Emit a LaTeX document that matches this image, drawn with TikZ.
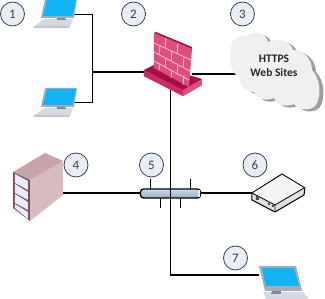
\documentclass[tikz,border=0pt]{standalone}
\usepackage{fontspec}
\setmainfont{Carlito}
\definecolor{lapblue}{HTML}{10B4F4}
\definecolor{lapgrey}{HTML}{A4ACB8}
\definecolor{lapbase}{HTML}{D5D9E0}
\definecolor{badge}{HTML}{E9EDF5}
\definecolor{badgeline}{HTML}{3C4250}
\definecolor{brick}{HTML}{DE4F80}
\definecolor{brickdark}{HTML}{A80F46}
\definecolor{brickmid}{HTML}{CC2A64}
\definecolor{busblue}{HTML}{A9C1DF}
\definecolor{srvside}{HTML}{D6BBC0}
\definecolor{srvtop}{HTML}{C9A3AB}
\definecolor{srvfront}{HTML}{7E4F5C}
\tikzset{
  x=1pt,y=-1pt,
  badgenode/.style={circle,draw=badgeline,fill=badge,line width=0.8pt,minimum size=24pt,inner sep=0pt,font=\fontsize{13}{13}\selectfont,text=black!75},
  link/.style={draw=black,line width=1.2pt},
  trunk/.style={draw=black,line width=1.6pt},
  tick/.style={draw=black,line width=0.8pt},
  mortar/.style={draw=white!75!brick,line width=0.7pt},
  laptop/.pic={
    \fill[lapbase] (-1,20) -- (28,20) -- (25,28) -- (-11,28) -- cycle;
    \fill[lapgrey!70] (-11,27) -- (25,27) -- (24,29) -- (-11,29) -- cycle;
    \fill[lapgrey] (0,0) -- (32,0) -- (29,19) -- (-4,19) -- cycle;
    \fill[lapblue] (2,1) -- (31,1) -- (27.5,17) -- (-2,17) -- cycle;
    \fill[lapgrey!80!black] (12,19) -- (20,19) -- (21,21) -- (12,21) -- cycle;
  }
}
\begin{document}
\begin{tikzpicture}
\useasboundingbox (0,0) rectangle (325,299);
\fill[white] (0,0) rectangle (325,299);

% endpoints and junctions of the wiring
\coordinate (lapA) at (74,14);
\coordinate (lapB) at (74,102);
\coordinate (cornerA) at (92,14);
\coordinate (cornerB) at (92,102);
\coordinate (joint) at (92,72);
\coordinate (fwLeft) at (146,72);
\coordinate (fwRight) at (192,74);
\coordinate (fwBottom) at (170.500,90);
\coordinate (cloudEdge) at (238,74);
\coordinate (srvPort) at (63,193);
\coordinate (busLeft) at (140,193);
\coordinate (busRight) at (201,193);
\coordinate (devPort) at (252,193);
\coordinate (elbow) at (170.500,275);
\coordinate (lapC) at (259,275);

% wiring, kept under the equipment
\draw[tick] (lapA) -- (cornerA) -- (cornerB) -- (lapB);
\draw[trunk] (joint) -- (fwLeft);
\draw[trunk] (fwRight) -- (cloudEdge);
\draw[link] (fwBottom) -- (elbow) -- (lapC);
\draw[link] (srvPort) -- (busLeft);
\draw[link] (busRight) -- (devPort);

% laptops
\pic at (45,-1) {laptop};
\pic at (45,88) {laptop};
\fill[lapbase] (263,292) -- (303,292) -- (309,299) -- (266,299) -- cycle;
\fill[lapgrey] (259,266) -- (296,266) -- (302,291) -- (265,291) -- cycle;
\fill[lapblue] (262,268) -- (294,268) -- (299,286) -- (266,286) -- cycle;
\fill[lapgrey!80!black] (272,291) -- (281,291) -- (281,294) -- (271,294) -- cycle;

% firewall
\fill[brickdark] (144,70) -- (154,65) -- (202,79) -- (202,85) -- (183,96) -- (144,76) -- cycle;
\fill[brickmid] (144,70) -- (183,90) -- (183,96) -- (144,76) -- cycle;
\fill[brick] (183,90) -- (202,79) -- (202,85) -- (183,96) -- cycle;
\fill[brick] (154,33) -- (192,49) -- (189,87) -- (154,68) -- cycle;
\fill[brickdark] (154,33) -- (156,32) -- (192,47) -- (192,49) -- cycle;
\draw[mortar] (154,43) -- (191,60);
\draw[mortar] (154,52) -- (190,71);
\draw[mortar] (154,61) -- (189,80);
\draw[mortar] (166,38) -- (165,48) (178,43) -- (177,54);
\draw[mortar] (160,46) -- (159,55) (172,51) -- (171,61) (184,57) -- (183,67);
\draw[mortar] (166,58) -- (165,67) (178,65) -- (177,75);
\draw[mortar] (160,64) -- (159,70) (172,70) -- (171,78) (184,75) -- (183,85);

% cloud with its offset shadow
\def\cloudoutline{(231,50) .. controls (230,40) and (238,34) .. (247,36)
  .. controls (254,30) and (266,33) .. (268,42)
  .. controls (276,37) and (290,40) .. (293,50)
  .. controls (304,50) and (312,60) .. (312,70)
  .. controls (320,78) and (322,95) .. (316,105)
  .. controls (310,112) and (298,110) .. (294,104)
  .. controls (284,108) and (276,104) .. (274,98)
  .. controls (264,102) and (256,98) .. (254,92)
  .. controls (246,92) and (240,86) .. (240,78)
  .. controls (232,74) and (228,62) .. (231,50) -- cycle}
\fill[black!38,shift={(4,2)}] \cloudoutline;
\fill[black!6] \cloudoutline;
\node[font=\fontsize{11.5}{14}\selectfont\bfseries,align=center,text=black!85] (cloud) at (274,66) {HTTPS\\Web Sites};

% server
\fill[srvside] (30,180) -- (63,161) -- (63,195) -- (30,221) -- cycle;
\fill[srvtop] (13,172) -- (45,153) -- (63,161) -- (30,180) -- cycle;
\fill[srvfront] (13,172) -- (30,180) -- (30,221) -- (13,208) -- cycle;
\foreach \ya/\yb/\yc/\yd in {174/181/190/183,184/192/200/193,194/202/210/203,204/212/219/208}
  \fill[white!92!blue] (15,\ya) -- (28,\yb) -- (28,\yc) -- (15,\yd) -- cycle;

% bus with its stubs
\draw[tick] (150,179) -- (150,189);
\draw[tick] (190,179) -- (190,189);
\draw[tick] (160,198) -- (160,208);
\draw[tick] (180,198) -- (180,208);
\draw[draw=black,line width=1.3pt,rounded corners=3pt,top color=busblue!60,bottom color=busblue!90!black] (140.500,189) rectangle (200.500,198);
\fill[white!70!busblue] (198,190) rectangle (200,197);
\draw[link] (170.500,189) -- (170.500,198);

% modem
\filldraw[draw=black,line width=1pt,line join=round,fill=black!12] (252,193) -- (282,174) -- (305,188) -- (304,195) -- (275,212) -- (252,200) -- cycle;
\fill[black!4] (253,193) -- (282,175) -- (304,188) -- (275,205) -- cycle;
\draw[black,line width=0.8pt] (252,193) -- (275,205) -- (304,188) (275,205) -- (275,212);
\fill[black!70] (256,196) rectangle (259,200) (268,203) rectangle (270,205) (272,205) rectangle (274,207);

% numbered badges
\node[badgenode] (b1) at (12.500,14) {1};
\node[badgenode] (b2) at (133.500,14) {2};
\node[badgenode] (b3) at (242.500,14) {3};
\node[badgenode] (b4) at (76,165) {4};
\node[badgenode] (b5) at (151.500,165) {5};
\node[badgenode] (b6) at (255,165) {6};
\node[badgenode] (b7) at (235.500,258) {7};
\end{tikzpicture}
\end{document}
